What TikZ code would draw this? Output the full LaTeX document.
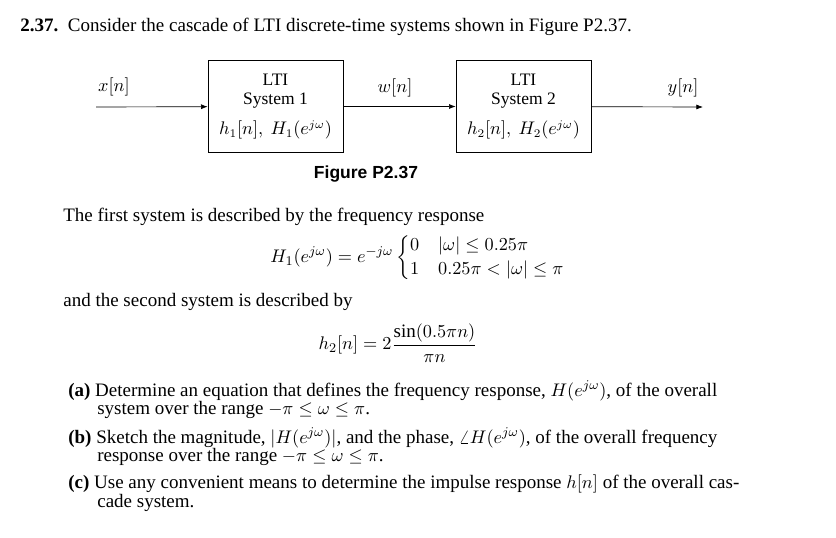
\documentclass[tikz,border=0pt]{standalone}
\usepackage{amsmath}
\usepackage{fontspec}
\setmainfont{Liberation Serif}
\newfontfamily\figfont{Liberation Sans}
\usetikzlibrary{positioning,arrows.meta}
\begin{document}
\begin{tikzpicture}
  [x=0.6pt,y=-0.6pt,font=\fontsize{11.4}{12}\selectfont,
  block/.style = {draw,thin,minimum width=81pt,minimum height=55pt,inner sep=0pt},
  sig/.style = {thin,-{Latex[length=4pt,width=3pt]}},
  lbl/.style = {font=\fontsize{10.5}{12}\selectfont},
  txt/.style = {anchor=west,inner sep=0pt}]
  \useasboundingbox (0,0) rectangle (836,537);
  % heading
  \node[txt] (head) at (20,27) {\textbf{2.37.}\ \ Consider the cascade of LTI discrete-time systems shown in Figure P2.37.};
  % blocks
  \node[block] (S1) at (275.5,106.5) {};
  \node[block] (S2) at (523.5,106.5) {};
  \node[lbl,align=center] at (275.5,91) {LTI\\[-1pt]System 1};
  \node[lbl] at (275.5,130) {$h_1[n],\ H_1(e^{j\omega})$};
  \node[lbl,align=center] at (523.5,91) {LTI\\[-1pt]System 2};
  \node[lbl] at (523.5,130) {$h_2[n],\ H_2(e^{j\omega})$};
  \coordinate (in) at (96,107);
  \coordinate (out) at (703,107);
  \draw[sig] (in) -- (S1);
  \draw[sig] (S1) -- (S2);
  \draw[sig] (S2) -- (out);
  \node[lbl] at (114,87) {$x[n]$};
  \node[lbl] at (395,88) {$w[n]$};
  \node[lbl] at (683,88) {$y[n]$};
  \node[lbl] (cap) at (366,174) {\figfont\bfseries Figure P2.37};
  % text
  \node[txt] (t1) at (63,217) {The first system is described by the frequency response};
  \node (eq1) at (418,258) {$H_1(e^{j\omega})=e^{-j\omega}\begin{cases}0 & |\omega|\le 0.25\pi\\ 1 & 0.25\pi<|\omega|\le\pi\end{cases}$};
  \node[txt] (t2) at (63,302) {and the second system is described by};
  \node (eq2) at (398,343) {$h_2[n]=2\dfrac{\sin(0.5\pi n)}{\pi n}$};
  % questions
  \node[txt] (qa) at (68,391) {\textbf{(a)}\ Determine an equation that defines the frequency response, $H(e^{j\omega})$, of the overall};
  \node[txt] at (97,410) {system over the range $-\pi\le\omega\le\pi$.};
  \node[txt] (qb) at (68,438) {\textbf{(b)}\ Sketch the magnitude, $|H(e^{j\omega})|$, and the phase, $\angle H(e^{j\omega})$, of the overall frequency};
  \node[txt] at (97,457) {response over the range $-\pi\le\omega\le\pi$.};
  \node[txt] (qc) at (68,484) {\textbf{(c)}\ Use any convenient means to determine the impulse response $h[n]$ of the overall cas-};
  \node[txt] at (97,503) {cade system.};
\end{tikzpicture}
\end{document}
